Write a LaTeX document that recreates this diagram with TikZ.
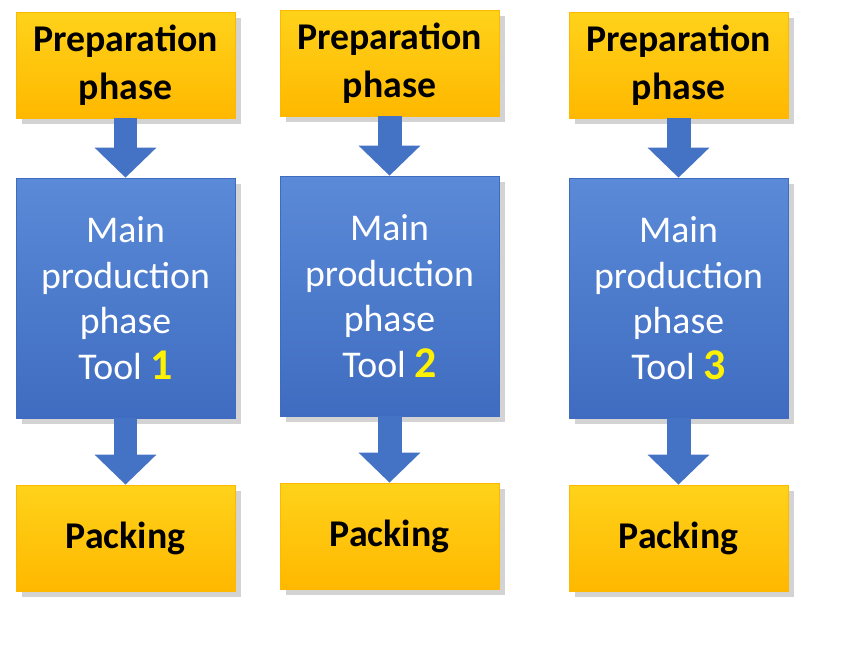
\documentclass[tikz,border=0pt]{standalone}
\usepackage{fontspec}
\setmainfont{Carlito}
\usetikzlibrary{arrows.meta,shadows}

\definecolor{goldtop}{HTML}{FFD21A}
\definecolor{goldbot}{HTML}{FFB800}
\definecolor{bluetop}{HTML}{5B8AD8}
\definecolor{bluebot}{HTML}{3F6CC0}
\definecolor{flowblue}{HTML}{4472C4}

\tikzset{
  yellowbox/.style={draw=goldbot, top color=goldtop, bottom color=goldbot,
    minimum width=4.38cm, minimum height=2.12cm, align=center, font=\fontsize{21.5}{27}\selectfont\bfseries,
    drop shadow={shadow xshift=0.12cm, shadow yshift=-0.12cm, opacity=0.35}},
  bluebox/.style={draw=bluebot, top color=bluetop, bottom color=bluebot,
    minimum width=4.38cm, minimum height=4.8cm, align=center, text=white, font=\fontsize{21.5}{26}\selectfont,
    drop shadow={shadow xshift=0.12cm, shadow yshift=-0.12cm, opacity=0.35}},
  flow/.style={draw=flowblue, line width=0.48cm, -{Triangle[width=1.2cm,length=0.6cm]}},
}
\newcommand{\toolnum}[1]{{\color{yellow}\bfseries\fontsize{25}{26}\selectfont #1}}

\begin{document}
\begin{tikzpicture}[x=0.02cm,y=-0.02cm]
  \useasboundingbox (0,0) rectangle (858,648);

  \node[yellowbox] (prep1) at (125.5,65) {Preparation\\phase};
  \node[yellowbox] (prep2) at (389.5,63) {Preparation\\phase};
  \node[yellowbox] (prep3) at (678.5,65) {Preparation\\phase};

  \node[bluebox] (main1) at (125.5,298) {Main\\production\\phase\\Tool \toolnum{1}};
  \node[bluebox] (main2) at (389.5,296) {Main\\production\\phase\\Tool \toolnum{2}};
  \node[bluebox] (main3) at (678.5,298) {Main\\production\\phase\\Tool \toolnum{3}};

  \node[yellowbox] (pack1) at (125.5,538) {Packing};
  \node[yellowbox] (pack2) at (389.5,536) {Packing};
  \node[yellowbox] (pack3) at (678.5,538) {Packing};

  \foreach \i in {1,2,3} {
    \draw[flow] (prep\i.south) -- (main\i.north);
    \draw[flow] (main\i.south) -- (pack\i.north);
  }
\end{tikzpicture}
\end{document}
